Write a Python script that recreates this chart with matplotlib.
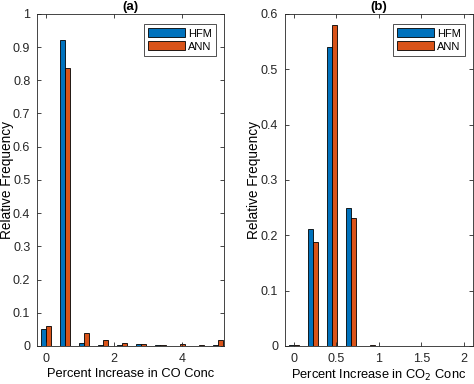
import matplotlib
matplotlib.use("Agg")
import matplotlib.pyplot as plt
import numpy as np

plt.rcParams['font.family'] = ['Liberation Sans', 'DejaVu Sans']

# Panel (a): CO
co_bins = [0.0, 0.56, 1.12, 1.68, 2.24, 2.80, 3.36, 3.92, 4.48, 5.04]
co_hfm = [0.050, 0.920, 0.008, 0.003, 0.004, 0.005, 0.002, 0.0005, 0.0005, 0.004]
co_ann = [0.060, 0.837, 0.040, 0.018, 0.008, 0.006, 0.002, 0.005, 0.003, 0.017]

# Panel (b): CO2
co2_bins = [0.0, 0.222, 0.444, 0.667, 0.889, 1.111, 1.333, 1.556, 1.778, 2.0]
co2_hfm = [0.001, 0.211, 0.540, 0.249, 0.000, 0.0, 0.0, 0.0, 0.0, 0.0]
co2_ann = [0.002, 0.187, 0.580, 0.231, 0.001, 0.0, 0.0, 0.0, 0.0, 0.0]

series_names = ['HFM', 'ANN']
colors = ['#0072BD', '#D95319']

fig = plt.figure(figsize=(4.74, 3.84), dpi=100)
ax1 = fig.add_axes([0.0787, 0.099, 0.3945, 0.865])
ax2 = fig.add_axes([0.6013, 0.099, 0.397, 0.865])

def draw(ax, bins, hfm, ann, xlim, ylim, yticks, xticks, xticklabels, xlabel, title, ylabx):
    bins = np.asarray(bins)
    step = bins[1] - bins[0]
    w = step * 0.27
    ax.bar(bins - w / 2, hfm, width=w, color=colors[0], edgecolor='black', linewidth=0.6, label=series_names[0])
    ax.bar(bins + w / 2, ann, width=w, color=colors[1], edgecolor='black', linewidth=0.6, label=series_names[1])
    ax.set_xlim(*xlim)
    ax.set_ylim(*ylim)
    ax.set_yticks(yticks)
    ax.set_yticklabels([('%g' % t) for t in yticks])
    ax.set_xticks(xticks)
    ax.set_xticklabels(xticklabels)
    ax.tick_params(direction='in', top=True, right=True, length=3, width=0.6,
                   labelsize=9, colors='#262626', pad=5)
    for s in ax.spines.values():
        s.set_linewidth(0.6)
        s.set_color('#262626')
    ax.set_xlabel(xlabel, fontsize=9.3, labelpad=2)
    ax.set_ylabel('Relative Frequency', fontsize=9.8)
    ax.yaxis.set_label_coords(ylabx, 0.5)
    ax.set_title(title, fontsize=9.5, fontweight='bold', pad=3)
    leg = ax.legend(loc='upper right', fontsize=8, frameon=True, fancybox=False,
                    edgecolor='black', handlelength=3.3, handleheight=0.85,
                    borderpad=0.35, labelspacing=0.25, handletextpad=0.3,
                    borderaxespad=0.0, bbox_to_anchor=(0.955, 0.968))
    leg.get_frame().set_linewidth(0.6)

draw(ax1, co_bins, co_hfm, co_ann, (-0.246, 5.23), (0, 1),
     np.round(np.arange(0, 1.01, 0.1), 1), [0, 2, 4], ['0', '2', '4'],
     'Percent Increase in CO Conc', '(a)', -0.125)
draw(ax2, co2_bins, co2_hfm, co2_ann, (-0.106, 2.11), (0, 0.6),
     np.round(np.arange(0, 0.61, 0.1), 1), [0, 0.5, 1, 1.5, 2], ['0', '0.5', '1', '1.5', '2'],
     'Percent Increase in CO$_2$ Conc', '(b)', -0.125)

fig.savefig('out.png', dpi=100)
